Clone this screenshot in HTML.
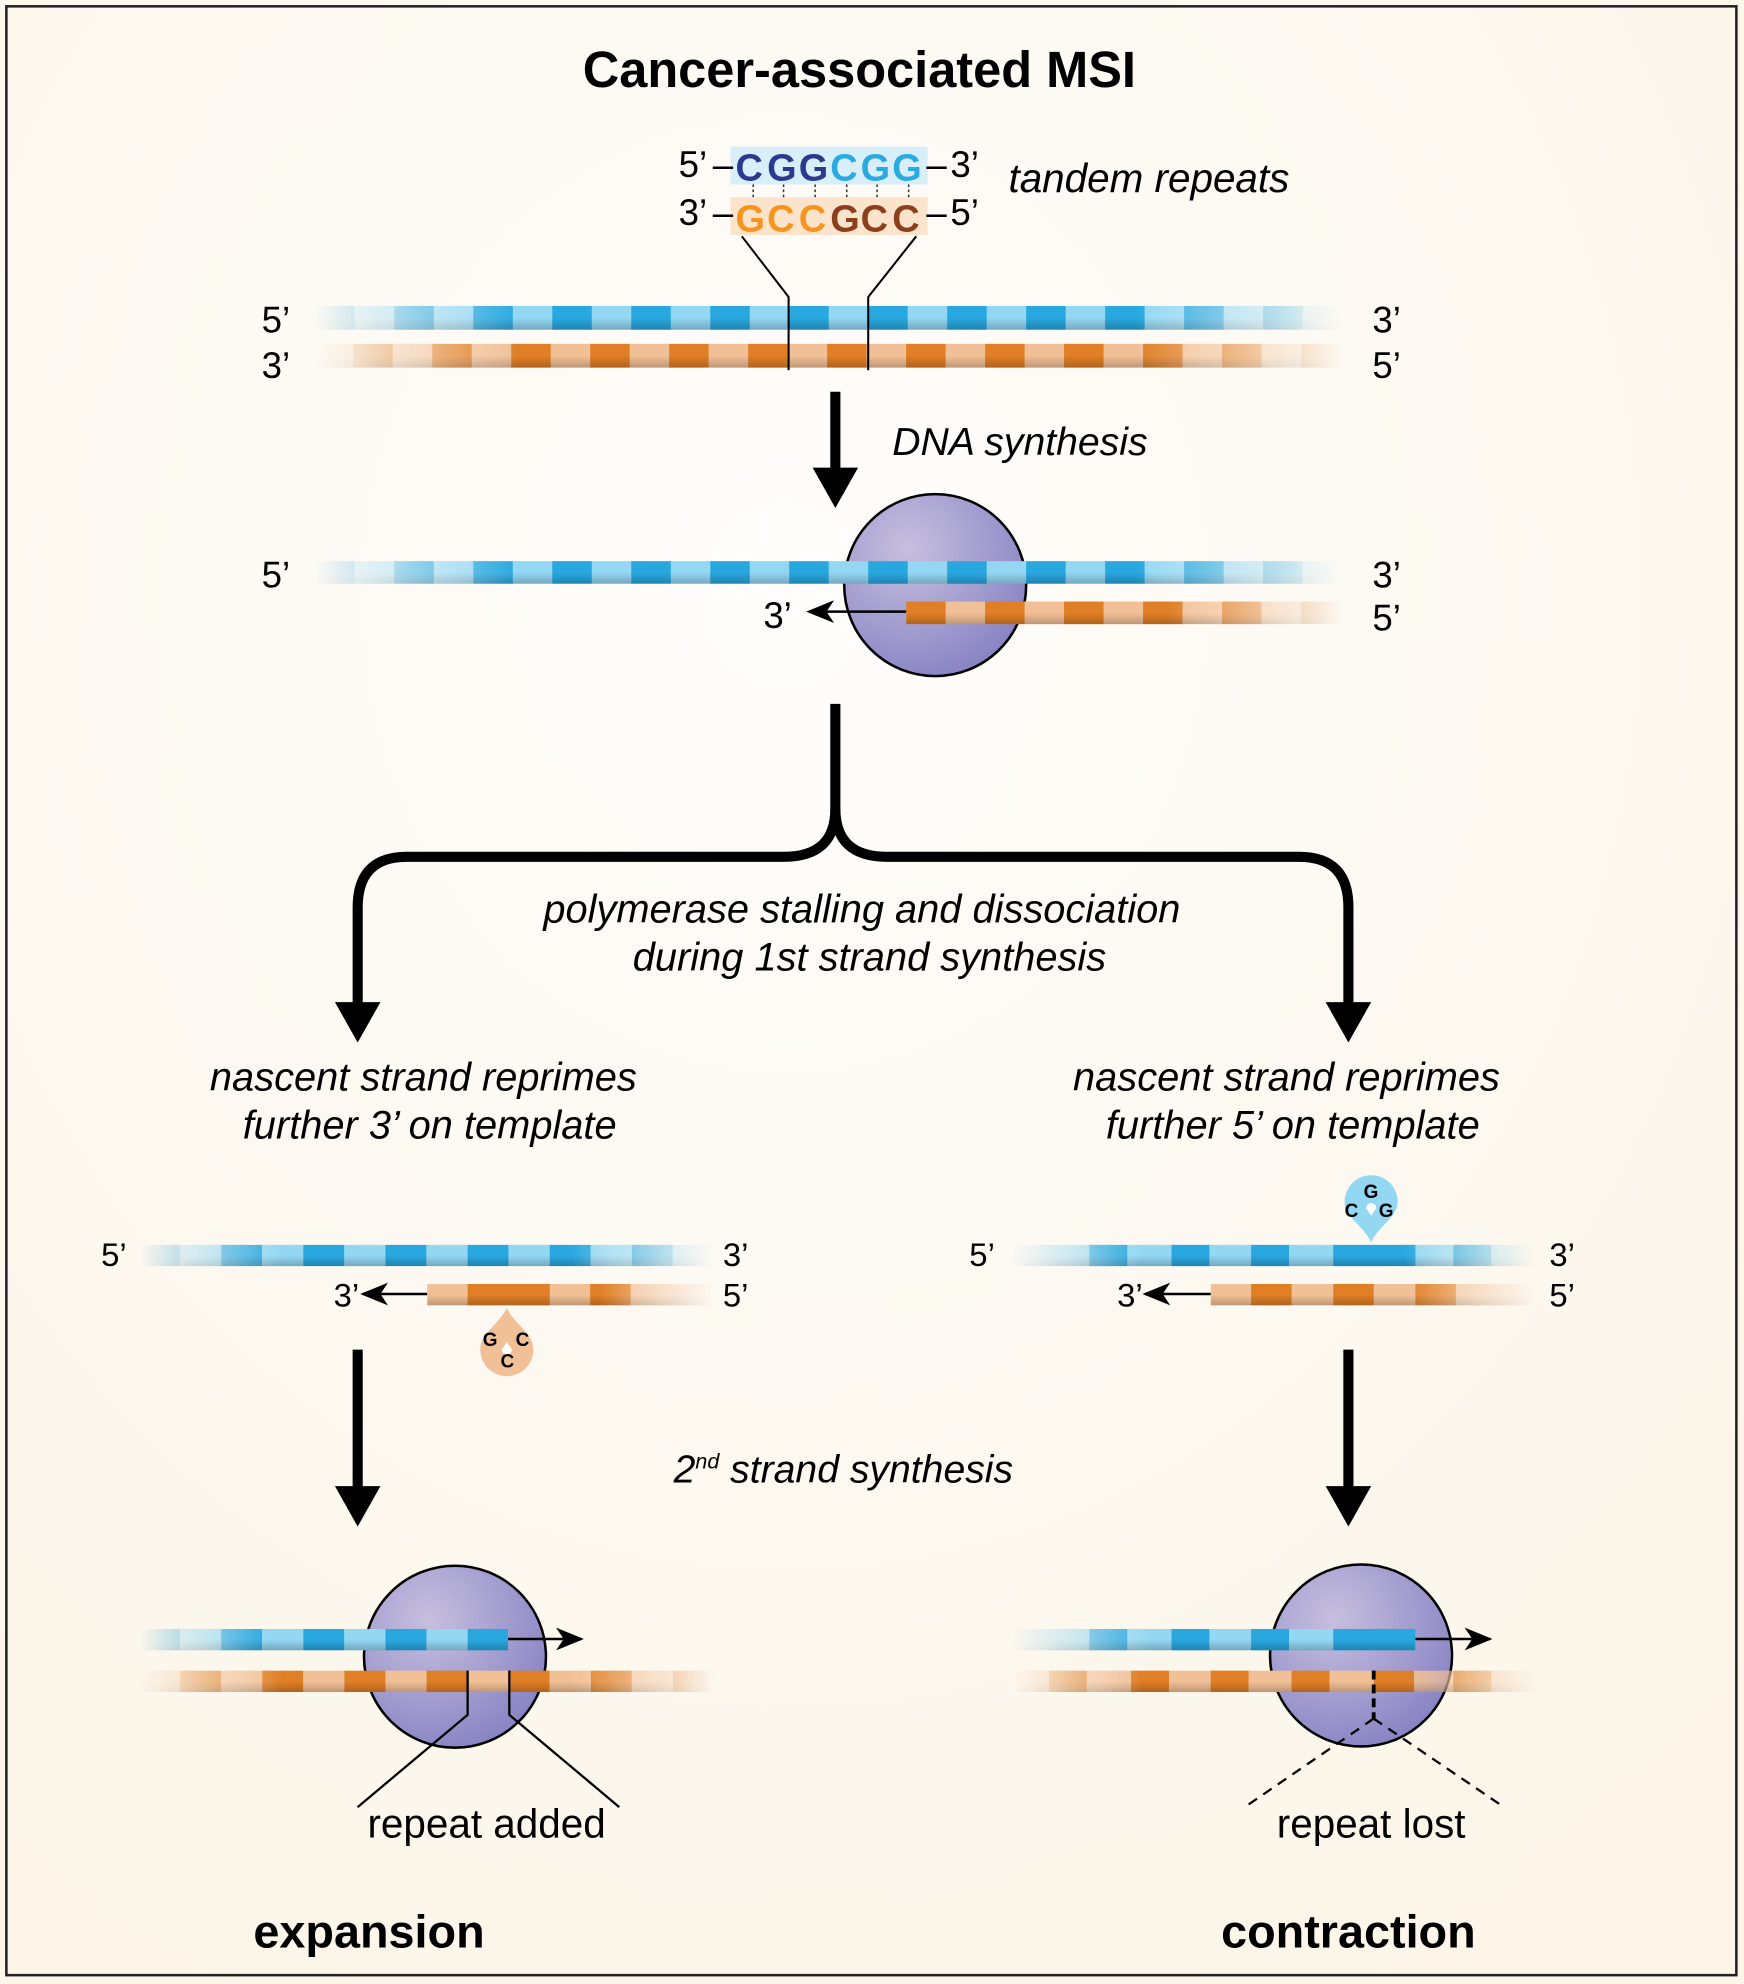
<!DOCTYPE html>
<html><head><meta charset="utf-8"><style>
html,body{margin:0;padding:0;background:#fdf8ee;}
svg{display:block;}
text{font-family:"Liberation Sans",sans-serif;}
</style></head><body>
<svg width="1744" height="1984" viewBox="0 0 1380 1570" xmlns="http://www.w3.org/2000/svg">
<defs>
<radialGradient id="bg" cx="0.45" cy="0.3" r="0.8"><stop offset="0" stop-color="#fefdfb"/><stop offset="1" stop-color="#fcf5e8"/></radialGradient>
<radialGradient id="pol" cx="0.35" cy="0.3" r="0.75"><stop offset="0" stop-color="#c7bfdf"/><stop offset="1" stop-color="#8884c4"/></radialGradient>
<linearGradient id="shade" x1="0" y1="0" x2="0" y2="1"><stop offset="0" stop-color="#000" stop-opacity="0"/><stop offset="0.5" stop-color="#000" stop-opacity="0"/><stop offset="1" stop-color="#000" stop-opacity="0.22"/></linearGradient>
<linearGradient id="gB"><stop offset="0" stop-color="#fff" stop-opacity="0"/><stop offset="0.2" stop-color="#fff" stop-opacity="1"/><stop offset="0.8" stop-color="#fff" stop-opacity="1"/><stop offset="1" stop-color="#fff" stop-opacity="0"/></linearGradient>
<linearGradient id="gR"><stop offset="0" stop-color="#fff"/><stop offset="0.6" stop-color="#fff"/><stop offset="1" stop-color="#fff" stop-opacity="0"/></linearGradient>
<linearGradient id="gL"><stop offset="0" stop-color="#fff" stop-opacity="0"/><stop offset="0.35" stop-color="#fff"/><stop offset="1" stop-color="#fff"/></linearGradient>
<linearGradient id="gB2"><stop offset="0" stop-color="#fff" stop-opacity="0"/><stop offset="0.25" stop-color="#fff"/><stop offset="0.75" stop-color="#fff"/><stop offset="1" stop-color="#fff" stop-opacity="0"/></linearGradient>
<mask id="mB" maskContentUnits="objectBoundingBox"><rect width="1" height="1" fill="url(#gB)"/></mask>
<mask id="mB2" maskContentUnits="objectBoundingBox"><rect width="1" height="1" fill="url(#gB2)"/></mask>
<mask id="mR" maskContentUnits="objectBoundingBox"><rect width="1" height="1" fill="url(#gR)"/></mask>
<mask id="mL" maskContentUnits="objectBoundingBox"><rect width="1" height="1" fill="url(#gL)"/></mask>
<pattern id="pb1" patternUnits="userSpaceOnUse" x="62" y="0" width="62.5" height="2000"><rect width="31.25" height="2000" fill="#29a8e0"/><rect x="31.25" width="31.25" height="2000" fill="#93d7f3"/></pattern>
<pattern id="po1" patternUnits="userSpaceOnUse" x="29.5" y="0" width="62.5" height="2000"><rect width="31.25" height="2000" fill="#e07f26"/><rect x="31.25" width="31.25" height="2000" fill="#f2c096"/></pattern>
<pattern id="pb2" patternUnits="userSpaceOnUse" x="45" y="0" width="65" height="2000"><rect width="32.5" height="2000" fill="#29a8e0"/><rect x="32.5" width="32.5" height="2000" fill="#93d7f3"/></pattern>
<pattern id="po2" patternUnits="userSpaceOnUse" x="12.5" y="0" width="65" height="2000"><rect width="32.5" height="2000" fill="#e07f26"/><rect x="32.5" width="32.5" height="2000" fill="#f2c096"/></pattern>
<marker id="ah" markerWidth="22" markerHeight="18" refX="20" refY="9" orient="auto" markerUnits="userSpaceOnUse" viewBox="0 0 22 18"><path d="M0,0 L22,9 L0,18 L6,9 Z" fill="#000"/></marker>
</defs>
<rect x="0" y="0" width="1380" height="1570" fill="url(#bg)"/>
<rect x="5" y="5" width="1369" height="1558" fill="none" stroke="#222" stroke-width="2"/>

<text x="680" y="69" font-size="40" font-weight="bold" text-anchor="middle">Cancer-associated MSI</text>

<!-- tandem repeats -->
<rect x="578" y="116" width="156" height="30" fill="#d8eef9"/>
<rect x="578" y="156" width="156" height="30" fill="#fbe3cc"/>
<g font-size="30" font-weight="bold">
<text x="582" y="143" fill="#2b3990">C</text><text x="607" y="143" fill="#2b3990">G</text><text x="632" y="143" fill="#2b3990">G</text>
<text x="657" y="143" fill="#29abe2">C</text><text x="681" y="143" fill="#29abe2">G</text><text x="706" y="143" fill="#29abe2">G</text>
<text x="582" y="183" fill="#f7941d">G</text><text x="607" y="183" fill="#f7941d">C</text><text x="632" y="183" fill="#f7941d">C</text>
<text x="657" y="183" fill="#8b3f1a">G</text><text x="681" y="183" fill="#8b3f1a">C</text><text x="706" y="183" fill="#8b3f1a">C</text>
</g>
<g stroke="#333" stroke-width="1.2" stroke-dasharray="2,2"><line x1="596" y1="146" x2="596" y2="158"/><line x1="620" y1="146" x2="620" y2="158"/><line x1="645" y1="146" x2="645" y2="158"/><line x1="670" y1="146" x2="670" y2="158"/><line x1="694" y1="146" x2="694" y2="158"/><line x1="719" y1="146" x2="719" y2="158"/></g>
<g font-size="29"><text x="537" y="140">5’</text><text x="564" y="140">–</text><text x="733" y="140">–</text><text x="752" y="140">3’</text>
<text x="537" y="178">3’</text><text x="564" y="178">–</text><text x="733" y="178">–</text><text x="752" y="178">5’</text></g>
<text x="798" y="152" font-size="32" font-style="italic">tandem repeats</text>

<!-- top strands -->
<g mask="url(#mB)"><rect x="248" y="242" width="814" height="19" fill="url(#pb1)"/><rect x="248" y="242" width="814" height="19" fill="url(#shade)"/></g>
<g mask="url(#mB)"><rect x="248" y="272" width="814" height="19" fill="url(#po1)"/><rect x="248" y="272" width="814" height="19" fill="url(#shade)"/></g>
<polyline points="587,187 624,235 624,293" fill="none" stroke="#000" stroke-width="1.6"/>
<polyline points="725,187 687,235 687,293" fill="none" stroke="#000" stroke-width="1.6"/>
<g font-size="29"><text x="207" y="263">5’</text><text x="207" y="299">3’</text><text x="1086" y="263">3’</text><text x="1086" y="299">5’</text></g>

<!-- arrow 1 -->
<line x1="661" y1="310" x2="661" y2="372" stroke="#000" stroke-width="8"/>
<path d="M643,370 L679,370 L661,402 Z"/>
<text x="706" y="360" font-size="31" font-style="italic">DNA synthesis</text>

<!-- second row -->
<circle cx="740" cy="463" r="72" fill="url(#pol)" stroke="#000" stroke-width="2"/>
<g mask="url(#mB)"><rect x="248" y="444" width="814" height="18" fill="url(#pb1)"/><rect x="248" y="444" width="814" height="18" fill="url(#shade)"/></g>
<g mask="url(#mR)"><rect x="717" y="476" width="345" height="18" fill="url(#po1)"/><rect x="717" y="476" width="345" height="18" fill="url(#shade)"/></g>
<line x1="717" y1="484" x2="640" y2="484" stroke="#000" stroke-width="2" marker-end="url(#ah)"/>
<g font-size="29"><text x="207" y="465">5’</text><text x="604" y="497">3’</text><text x="1086" y="465">3’</text><text x="1086" y="499">5’</text></g>

<!-- branch -->
<path d="M661,557 V640 Q661,678 620,678 H322 Q283,678 283,718 V795" fill="none" stroke="#000" stroke-width="8"/>
<path d="M661,640 Q661,678 702,678 H1028 Q1067,678 1067,718 V795" fill="none" stroke="#000" stroke-width="8"/>
<path d="M265,793 L301,793 L283,825 Z"/><path d="M1049,793 L1085,793 L1067,825 Z"/>
<g font-size="31.5" font-style="italic" text-anchor="middle">
<text x="682" y="730">polymerase stalling and dissociation</text>
<text x="688" y="768">during 1st strand synthesis</text>
<text x="335" y="863">nascent strand reprimes</text>
<text x="340" y="901">further 3’ on template</text>
<text x="1018" y="863">nascent strand reprimes</text>
<text x="1023" y="901">further 5’ on template</text>
</g>

<!-- left middle -->
<g mask="url(#mB2)"><rect x="110" y="985" width="455" height="17" fill="url(#pb2)"/><rect x="110" y="985" width="455" height="17" fill="url(#shade)"/></g>
<g mask="url(#mR)"><rect x="338" y="1016" width="227" height="17" fill="#f2c096"/><rect x="370" y="1016" width="65" height="17" fill="#e07f26"/><rect x="467" y="1016" width="32" height="17" fill="#e07f26"/><rect x="338" y="1016" width="227" height="17" fill="url(#shade)"/></g>
<line x1="338" y1="1024" x2="287" y2="1024" stroke="#000" stroke-width="2" marker-end="url(#ah)"/>
<path d="M401,1035 C395,1048 380,1055 380,1068 A21,21 0 0 0 422,1068 C422,1055 407,1048 401,1035 Z" fill="#f2c096"/>
<path d="M401,1062 l-4,6 a4,4 0 0 0 8,0 Z" fill="#fff"/>
<g font-size="15" font-weight="bold"><text x="382" y="1065">G</text><text x="408" y="1065">C</text><text x="396" y="1082">C</text></g>
<g font-size="26"><text x="80" y="1002">5’</text><text x="572" y="1002">3’</text><text x="264" y="1034">3’</text><text x="572" y="1034">5’</text></g>

<!-- right middle -->
<g mask="url(#mB2)"><rect x="800" y="985" width="415" height="17" fill="#93d7f3"/><rect x="862" y="985" width="30" height="17" fill="#29a8e0"/><rect x="927" y="985" width="30" height="17" fill="#29a8e0"/><rect x="990" y="985" width="30" height="17" fill="#29a8e0"/><rect x="1055" y="985" width="65" height="17" fill="#29a8e0"/><rect x="1150" y="985" width="30" height="17" fill="#29a8e0"/><rect x="800" y="985" width="415" height="17" fill="url(#shade)"/></g>
<g mask="url(#mR)"><rect x="958" y="1016" width="257" height="17" fill="#f2c096"/><rect x="990" y="1016" width="32" height="17" fill="#e07f26"/><rect x="1055" y="1016" width="32" height="17" fill="#e07f26"/><rect x="1120" y="1016" width="32" height="17" fill="#e07f26"/><rect x="958" y="1016" width="257" height="17" fill="url(#shade)"/></g>
<line x1="958" y1="1024" x2="906" y2="1024" stroke="#000" stroke-width="2" marker-end="url(#ah)"/>
<path d="M1085,983 C1079,970 1064,963 1064,951 A21,21 0 0 1 1106,951 C1106,963 1091,970 1085,983 Z" fill="#93d7f3"/>
<path d="M1085,962 l-4,-6 a4,4 0 0 1 8,0 Z" fill="#fff"/>
<g font-size="15" font-weight="bold"><text x="1079" y="948">G</text><text x="1064" y="963">C</text><text x="1091" y="963">G</text></g>
<g font-size="26"><text x="767" y="1002">5’</text><text x="1226" y="1002">3’</text><text x="884" y="1034">3’</text><text x="1226" y="1034">5’</text></g>

<!-- arrows 2nd -->
<line x1="283" y1="1068" x2="283" y2="1178" stroke="#000" stroke-width="8"/><path d="M265,1176 L301,1176 L283,1208 Z"/>
<line x1="1067" y1="1068" x2="1067" y2="1178" stroke="#000" stroke-width="8"/><path d="M1049,1176 L1085,1176 L1067,1208 Z"/>
<text x="533" y="1173" font-size="31" font-style="italic">2<tspan font-size="17" dy="-11">nd</tspan><tspan dy="11"> strand synthesis</tspan></text>

<!-- bottom left -->
<circle cx="360" cy="1311" r="72" fill="url(#pol)" stroke="#000" stroke-width="2"/>
<g mask="url(#mL)"><rect x="110" y="1289" width="292" height="17" fill="url(#pb2)"/><rect x="110" y="1289" width="292" height="17" fill="url(#shade)"/></g>
<g mask="url(#mB2)"><rect x="110" y="1322" width="455" height="17" fill="url(#po2)"/><rect x="110" y="1322" width="455" height="17" fill="url(#shade)"/></g>
<line x1="402" y1="1297" x2="460" y2="1297" stroke="#000" stroke-width="2" marker-end="url(#ah)"/>
<polyline points="370,1322 370,1357 283,1430" fill="none" stroke="#000" stroke-width="1.8"/>
<polyline points="403,1322 403,1357 490,1430" fill="none" stroke="#000" stroke-width="1.8"/>
<text x="385" y="1454" font-size="32" text-anchor="middle">repeat added</text>
<text x="292" y="1541" font-size="37" font-weight="bold" text-anchor="middle">expansion</text>

<!-- bottom right -->
<circle cx="1077" cy="1310" r="72" fill="url(#pol)" stroke="#000" stroke-width="2"/>
<g mask="url(#mL)"><rect x="800" y="1289" width="320" height="17" fill="#93d7f3"/><rect x="862" y="1289" width="30" height="17" fill="#29a8e0"/><rect x="927" y="1289" width="30" height="17" fill="#29a8e0"/><rect x="990" y="1289" width="30" height="17" fill="#29a8e0"/><rect x="1055" y="1289" width="65" height="17" fill="#29a8e0"/><rect x="800" y="1289" width="320" height="17" fill="url(#shade)"/></g>
<g mask="url(#mB2)"><rect x="800" y="1322" width="415" height="17" fill="#f2c096"/><rect x="830" y="1322" width="30" height="17" fill="#e07f26"/><rect x="895" y="1322" width="30" height="17" fill="#e07f26"/><rect x="958" y="1322" width="30" height="17" fill="#e07f26"/><rect x="1022" y="1322" width="30" height="17" fill="#e07f26"/><rect x="1087" y="1322" width="32" height="17" fill="#e07f26"/><rect x="1150" y="1322" width="30" height="17" fill="#e07f26"/><rect x="800" y="1322" width="415" height="17" fill="url(#shade)"/></g>
<line x1="1120" y1="1297" x2="1179" y2="1297" stroke="#000" stroke-width="2" marker-end="url(#ah)"/>
<line x1="1087" y1="1322" x2="1087" y2="1360" stroke="#000" stroke-width="3" stroke-dasharray="7,4"/>
<path d="M1087,1360 L985,1430 M1087,1360 L1190,1430" fill="none" stroke="#000" stroke-width="1.8" stroke-dasharray="8,6"/>
<text x="1085" y="1454" font-size="32" text-anchor="middle">repeat lost</text>
<text x="1067" y="1541" font-size="37" font-weight="bold" text-anchor="middle">contraction</text>
</svg>
</body></html>
